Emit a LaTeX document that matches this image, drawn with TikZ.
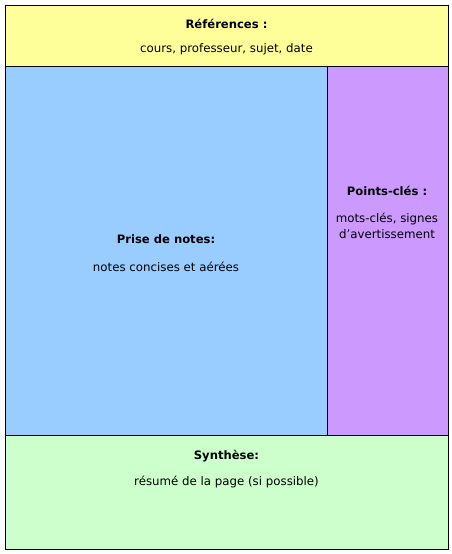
\documentclass[tikz,border=0pt]{standalone}
\usepackage{fontspec}
\setmainfont{DejaVu Sans}
\usepackage{tikz}

\definecolor{refyellow}{HTML}{FFFF99}
\definecolor{notesblue}{HTML}{99CCFF}
\definecolor{keyviolet}{HTML}{CC99FF}
\definecolor{synthgreen}{HTML}{CCFFCC}

\tikzset{
  zone/.style={draw=black, line width=1pt},
  title/.style={font=\fontsize{11.6}{16}\selectfont\bfseries, inner sep=0pt},
  body/.style={font=\fontsize{11.8}{16}\selectfont, inner sep=0pt, align=center}
}

\begin{document}
\begin{tikzpicture}[x=1pt,y=-1pt]
\useasboundingbox (0,0) rectangle (452,554);
% zones
\fill[refyellow] (5,5) rectangle (448,66);
\fill[notesblue] (5,66) rectangle (327,435);
\fill[keyviolet] (327,66) rectangle (448,435);
\fill[synthgreen] (5,435) rectangle (448,549);
\draw[zone] (5,5) rectangle (448,549);
\draw[zone] (5,66) -- (448,66);
\draw[zone] (327,66) -- (327,435);
\draw[zone] (5,435) -- (448,435);
% texts
\node[title] (ref) at (226.5,24) {Références :};
\node[body] (refsub) at (226.5,49) {cours, professeur, sujet, date};
\node[title] (notes) at (166,239) {Prise de notes:};
\node[body] (notessub) at (166,267) {notes concises et aérées};
\node[title] (keys) at (387,191) {Points-clés :};
\node[body] (keyssub) at (387,226) {mots-clés, signes\\d’avertissement};
\node[title] (synth) at (226.5,456) {Synthèse:};
\node[body] (synthsub) at (226.5,482) {résumé de la page (si possible)};
\end{tikzpicture}
\end{document}
